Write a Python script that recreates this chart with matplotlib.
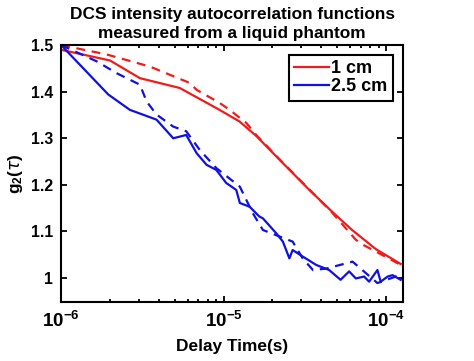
import matplotlib
matplotlib.use("Agg")
import matplotlib.pyplot as plt
import numpy as np

plt.rcParams['font.family'] = ['Liberation Sans', 'DejaVu Sans']
plt.rcParams['font.weight'] = 'bold'
plt.rcParams['mathtext.fontset'] = 'custom'
plt.rcParams['mathtext.rm'] = 'Liberation Sans:bold'
plt.rcParams['mathtext.it'] = 'DejaVu Sans:style=italic:weight=normal'
plt.rcParams['mathtext.default'] = 'regular'

# delay times given as log10(seconds)
# 1 cm: measured (solid) and fit (dashed)
logt_1cm = [-6, -5.699, -5.515, -5.27, -5.025, -4.902, -4.799, -4.656, -4.472, -4.331,
            -4.209, -4.063, -3.91]
g_1cm = [1.490, 1.467, 1.429, 1.408, 1.361, 1.336, 1.305, 1.254, 1.189, 1.142,
         1.103, 1.062, 1.030]
logt_1cm_fit = [-6, -5.72, -5.454, -5.21, -5.166, -5.025, -4.963, -4.86, -4.799, -4.656,
                -4.472, -4.331, -4.186, -4.135, -4.0, -3.91]
g_1cm_fit = [1.50, 1.48, 1.454, 1.419, 1.404, 1.376, 1.361, 1.333, 1.307, 1.255,
             1.190, 1.140, 1.082, 1.070, 1.045, 1.028]

# 2.5 cm: measured (solid) and fit (dashed)
logt_25cm = [-6, -5.71, -5.577, -5.413, -5.31, -5.23, -5.166, -5.105, -5.045, -4.984,
             -4.922, -4.90, -4.84, -4.78, -4.758, -4.676, -4.635, -4.595, -4.575, -4.513,
             -4.43, -4.35, -4.28, -4.227, -4.186, -4.135, -4.104, -4.053, -4.033, -3.99,
             -3.96, -3.91]
g_25cm = [1.50, 1.394, 1.361, 1.340, 1.300, 1.307, 1.268, 1.243, 1.232, 1.204,
          1.189, 1.161, 1.153, 1.132, 1.128, 1.096, 1.078, 1.042, 1.060, 1.046,
          1.028, 1.017, 0.996, 1.014, 0.999, 1.003, 0.992, 1.017, 0.992, 1.003,
          1.006, 0.996]
logt_25cm_fit = [-6, -5.78, -5.66, -5.515, -5.474, -5.413, -5.31, -5.23, -5.147, -5.045,
                 -4.90, -4.82, -4.758, -4.575, -4.513, -4.45, -4.37, -4.206, -4.053, -3.94,
                 -3.91]
g_25cm_fit = [1.50, 1.465, 1.440, 1.415, 1.379, 1.351, 1.325, 1.315, 1.275, 1.236,
              1.196, 1.139, 1.103, 1.078, 1.042, 1.017, 1.020, 1.035, 0.989, 1.003,
              1.0]

fig = plt.figure(figsize=(4.74, 3.61), dpi=100)
ax = fig.add_axes([0.129, 0.163, 0.721, 0.712])

red = '#ee1c1c'
blue = '#1010e0'
ax.plot(10.0 ** np.array(logt_1cm), g_1cm, '-', color=red, lw=1.6, label='1 cm')
ax.plot(10.0 ** np.array(logt_25cm), g_25cm, '-', color=blue, lw=1.6, label='2.5 cm')
ax.plot(10.0 ** np.array(logt_1cm_fit), g_1cm_fit, '--', color=red, lw=1.6, dashes=(4, 3))
ax.plot(10.0 ** np.array(logt_25cm_fit), g_25cm_fit, '--', color=blue, lw=1.6, dashes=(4, 3))

ax.set_xscale('log')
ax.set_xlim(1e-6, 1.27e-4)
ax.set_ylim(0.948, 1.5)
ax.set_yticks([1, 1.1, 1.2, 1.3, 1.4, 1.5])
ax.set_yticklabels(['1', '1.1', '1.2', '1.3', '1.4', '1.5'])
ax.tick_params(which='both', direction='in', top=True, right=True, width=1.3)
ax.tick_params(axis='y', labelsize=11.3)
ax.tick_params(axis='x', labelsize=13.5)
ax.tick_params(which='major', length=4, pad=6)
ax.tick_params(which='minor', length=2.5)
for s in ax.spines.values():
    s.set_linewidth(1.5)

ax.set_xlabel('Delay Time(s)', fontsize=12.4, fontweight='bold', labelpad=6)
ax.set_ylabel(r'g$_2$($\mathit{\tau}$)', fontsize=12.4, fontweight='bold')
ax.set_title('DCS intensity autocorrelation functions\nmeasured from a liquid phantom',
             fontsize=12.4, fontweight='bold', pad=5, linespacing=1.35)

leg = ax.legend(loc='upper right', fontsize=13, fancybox=False, edgecolor='black',
                handlelength=1.9, handletextpad=0.15, labelspacing=0.05, borderpad=0.3,
                borderaxespad=0.55, framealpha=1)
leg.get_frame().set_linewidth(1.5)

fig.savefig('out.png', dpi=100)
